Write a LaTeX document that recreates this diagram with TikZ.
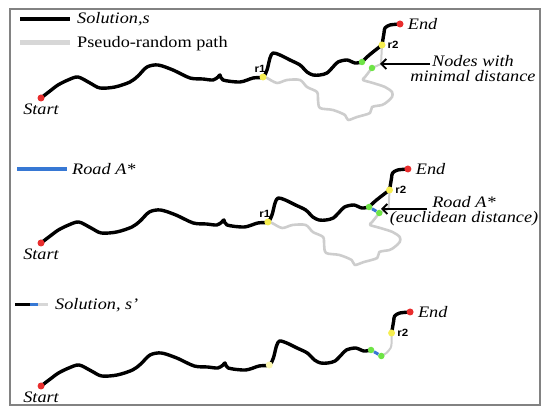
\documentclass[tikz,border=0pt]{standalone}
\usepackage{fontspec}
\setmainfont{Liberation Serif}[FakeStretch=1.14]
\newfontfamily\tagfont{Liberation Sans}[FakeStretch=1.1]
\usetikzlibrary{arrows.meta,positioning,backgrounds}
\definecolor{mred}{RGB}{232,45,45}
\definecolor{myellow}{RGB}{246,238,80}
\definecolor{mgreen}{RGB}{110,228,70}
\definecolor{mblue}{RGB}{55,120,212}
\definecolor{mgray}{RGB}{205,205,205}
\definecolor{framegray}{RGB}{130,130,130}
\tikzset{
  sol/.style={line width=3.4pt,black,line cap=round,line join=round},
  pseudo/.style={line width=2.6pt,mgray,line cap=round,line join=round},
  road/.style={line width=3pt,mblue},
  dot/.style={circle,fill=#1,inner sep=0pt,minimum size=7pt},
  dot/.default=myellow,
  txt/.style={font=\fontsize{16}{15.5}\selectfont,inner sep=0pt},
  itxt/.style={txt,font=\fontsize{16}{15.5}\selectfont\itshape},
  rtag/.style={font=\tagfont\fontsize{10.5}{10.5}\selectfont\bfseries,inner sep=0pt},
  pointer/.style={-{Straight Barb[length=5pt,width=10pt]},line width=1.8pt},
}
\begin{document}
\begin{tikzpicture}[x=1pt,y=-1pt]
\useasboundingbox (0,0) rectangle (550,414);
\draw[framegray,line width=1.2pt] (10,9) rectangle (540,405);

% legends
\node[itxt,anchor=base west] (legsol) at (77,24) {Solution,s};
\node[txt,anchor=base west] (legpseudo) at (77,48) {Pseudo-random path};
\node[itxt,anchor=base west] (legroad) at (72,175) {Road A*};
\node[itxt,anchor=base west] (legsolb) at (55,310) {Solution, s'};
\draw[sol,line width=4pt,line cap=butt] (20,19) -- (70,19);
\draw[pseudo,line width=5pt,line cap=butt,mgray!80] (20,43) -- (70,43);
\draw[road,line width=4pt] (17,169) -- (67,169);
\draw[sol,line width=3pt,line cap=butt] (15,305) -- (30,305);
\draw[road,line width=3pt] (30,305) -- (38,305);
\draw[pseudo,line width=3pt,line cap=butt,mgray!80] (38,305) -- (48,305);

% route shared by the three panels
\foreach \pn/\dx/\dy/\sx/\rc in {a/0/0/1/myellow, b/-0.9/145/1.022/myellow, c/-1.1/288/1.028/myellow!45}{
  \begin{scope}[shift={(\dx,\dy)},xscale=\sx]
    \node[dot=mred] (\pn-start) at (41,98) {};
    \node[dot=\rc] (\pn-r1) at (263,77) {};
    \node[dot=mgreen,minimum size=6.5pt] (\pn-g1) at (362,62) {};
    \node[dot=mgreen,minimum size=6.5pt] (\pn-g2) at (372,68) {};
    \node[dot] (\pn-r2) at (382,45) {};
    \node[dot=mred] (\pn-end) at (400,24) {};
    \node[itxt,below=2pt of \pn-start] (\pn-startlbl) {Start};
    \node[itxt,right=4pt of \pn-end] (\pn-endlbl) {End};
    \node[rtag] (\pn-r2lbl) at (393,45) {r2};
    \begin{scope}[on background layer]
      \draw[sol] plot[smooth,tension=.5] coordinates {(\pn-start.center) (50,91) (58,85) (68,80) (78,77)
        (90,83) (100,88) (115,87) (130,82) (138,76) (147,67) (158,65) (173,70) (190,78) (203,79)
        (213,80) (218,77) (220,75) (223,80) (240,82) (253,78) (\pn-r1.center) (267,70) (270,58)
        (273,53) (280,55) (290,60) (300,65) (307,72) (313,75) (320,75) (327,73) (333,67) (338,62)
        (347,60) (355,63) (\pn-g1.center)};
      \draw[sol] plot[smooth,tension=.5] coordinates {(\pn-r2.center) (384,33) (385,28) (390,25) (\pn-end.center)};
    \end{scope}
  \end{scope}
}

% pseudo-random detour, panels 1 and 2
\foreach \pn/\dx/\dy/\sx in {a/0/0/1, b/-0.9/145/1.022}{
  \begin{scope}[shift={(\dx,\dy)},xscale=\sx]
    \node[rtag] (\pn-r1lbl) at (260,69) {r1};
    \begin{scope}[on background layer]
      \draw[pseudo] plot[smooth,tension=.5] coordinates {(\pn-r1.center) (267,78) (277,83) (287,80)
        (300,80) (307,87) (317,92) (318,100) (320,108) (333,110) (345,115) (348,120) (357,117)
        (370,113) (372,107) (382,105) (387,102) (392,97) (392,92) (385,87) (373,83) (363,80)
        (365,77) (\pn-g2.center)};
      \draw[pseudo,line width=2pt] (\pn-g2.center) -- (381,64) -- (\pn-r2.center);
      \draw[sol] plot[smooth,tension=.5] coordinates {(\pn-g1.center) (367,57) (373,52) (\pn-r2.center)};
    \end{scope}
  \end{scope}
}

% A* road
\draw[road] (b-g1) -- (b-g2);
\draw[road] (c-g1) -- (c-g2);
\begin{scope}[shift={(-1.1,288)},xscale=1.028,on background layer]
  \draw[pseudo,line width=2pt] plot[smooth,tension=.5] coordinates {(c-g2.center) (377,65) (381,60) (382,55) (c-r2.center)};
\end{scope}

% notes
\node[itxt,align=center] (nmd) at (473,68.3) {Nodes with\\minimal distance};
\coordinate (taila) at (430,64);
\coordinate (tipa) at (380,64);
\draw[pointer] (taila) -- (tipa);
\node[itxt,align=center] (eucl) at (464,211) {Road A*\\(euclidean distance)};
\coordinate (tailb) at (427,209);
\coordinate (tipb) at (381,209);
\draw[pointer] (tailb) -- (tipb);
\end{tikzpicture}
\end{document}
